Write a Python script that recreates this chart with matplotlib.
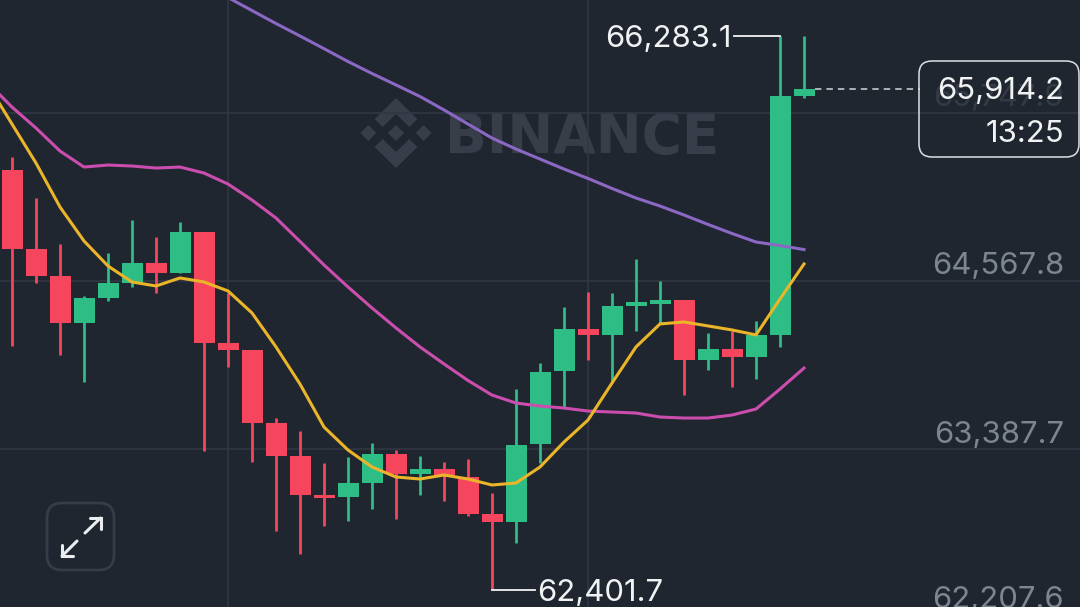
import numpy as np
import matplotlib
matplotlib.use('Agg')
import matplotlib.pyplot as plt
from matplotlib.patches import FancyBboxPatch, Polygon

# candles, prices
opens = [65345, 64790, 64605, 64276, 64449, 64556, 64696, 64626, 64911, 64134, 64082, 63571,
         63339, 63069, 63053, 63155, 63356, 63214, 63249, 63193, 62936, 62878, 63423, 63934,
         64229, 64190, 64395, 64409, 64433, 64012, 64092, 64033, 64190, 65863.5]
closes = [64790, 64605, 64276, 64449, 64556, 64696, 64626, 64911, 64134, 64082, 63571, 63339,
          63069, 63046, 63155, 63356, 63214, 63249, 63209, 62936, 62878, 63421, 63932.5, 64229,
          64190, 64395, 64419, 64433, 64012, 64092, 64033, 64190, 65863.5, 65914.2]
highs = [65434, 65151, 64825, 64463, 64762, 64993, 64876, 64981, 64911, 64486, 64082, 63606,
         63515, 63291, 63333, 63431, 63384, 63340, 63298, 63321, 63083, 63809, 63991, 64388,
         64493, 64482, 64720, 64566, 64433, 64201, 64220, 64288, 66283.1, 66283]
lows = [64112, 64556, 64049.5, 63862, 64430, 64528, 64486, 64626, 63377, 63963, 63302, 62819,
        62658, 62850, 62887, 62969, 62903, 63069, 63029, 62924, 62401.7, 62731, 63291, 63676,
        64014.5, 63853, 64216, 64274, 63769, 63944, 63823, 63879, 64108, 65847]

# moving averages, first two start one candle before the left edge
ma7 = [65941, 65667, 65394, 65086, 64848, 64673, 64561, 64533, 64589, 64561, 64498, 64344,
       64106, 63846, 63545, 63384, 63265, 63195, 63181, 63209, 63181, 63139, 63153, 63265,
       63440, 63594, 63853, 64106, 64267, 64281, 64253, 64225, 64190, 64442, 64687]
ma25 = [65955, 65786, 65639, 65478, 65366, 65380, 65373, 65359, 65366, 65324, 65247, 65135,
        65009, 64845, 64680, 64526, 64379, 64239, 64106, 63987, 63871, 63769, 63713, 63692,
        63678, 63657, 63650, 63643, 63615, 63608, 63608, 63629, 63671, 63811, 63958]
ma99 = [66553, 66462, 66371, 66284, 66195, 66105, 66021, 65941, 65860, 65766, 65667, 65569,
        65492, 65422, 65352, 65286, 65216, 65149, 65093, 65030, 64964, 64900.5, 64841, 64816, 64788]

y_ticks = [65747.9, 64567.8, 63387.7, 62207.6]
y_tick_labels = ['65,747.9', '64,567.8', '63,387.7', '62,207.6']
grid_candles = [9, 24]
last_price = '65,914.2'
countdown = '13:25'
high_label = '66,283.1'
low_label = '62,401.7'

BG = '#1F2630'
GRID = '#303743'
RED = '#F6465D'
GREEN = '#2EBD85'
FONT = 'Inter'
FS = 22.4

fig = plt.figure(figsize=(10.8, 6.07), dpi=100, facecolor=BG)

# back layer in pixels, watermark and expand button
back = fig.add_axes([0, 0, 1, 1], zorder=0)
back.set_xlim(0, 1080)
back.set_ylim(607, 0)
back.axis('off')

cx, cy = 396, 133
mark = '#383E49'
for dx in (-27.7, 0, 27.7):
    back.add_patch(Polygon([(cx+dx-8, cy), (cx+dx, cy-8), (cx+dx+8, cy), (cx+dx, cy+8)], color=mark, lw=0))
for s in (-1, 1):
    chevron = [(0, -35), (21.3, -14), (13.3, -6), (0, -19), (-13.3, -6), (-21.3, -14)]
    back.add_patch(Polygon([(cx+a, cy+s*b) for a, b in chevron], color=mark, lw=0))
back.text(582.5, 153, 'BINANCE', color=mark, fontsize=39.5, family='DejaVu Sans', weight='bold',
          ha='center', va='baseline')

back.add_patch(FancyBboxPatch((62, 518), 37, 37, boxstyle='round,pad=15,rounding_size=15',
                              fc='none', ec='#363C48', lw=2))
arrow = '#EAECEF'
for seg in ([(85, 533), (100.5, 518)], [(89.5, 518), (100.5, 518), (100.5, 529)],
            [(77, 541), (62, 556)], [(62, 545), (62, 556), (73, 556)]):
    xs, ys = zip(*seg)
    back.plot(xs, ys, color=arrow, lw=2.2, solid_capstyle='round', solid_joinstyle='miter')

# chart layer, candle i sits at pixel 12 + 24 i
ax = fig.add_axes([0, 0, 1, 1], zorder=1, facecolor='none')
ax.set_xlim(-0.5, 44.5)
ax.set_ylim(62284.5, 66535.9)
ax.axis('off')

for t in y_ticks:
    ax.axhline(t, color=GRID, lw=1.2, zorder=1)
for g in grid_candles:
    ax.axvline(g, color=GRID, lw=1.2, zorder=1)

x = np.arange(len(opens))
opens = np.array(opens)
closes = np.array(closes)
colors = [GREEN if c >= o else RED for o, c in zip(opens, closes)]
ax.vlines(x, lows, highs, color=colors, lw=2.0, zorder=2)
body = np.abs(closes - opens)
ax.bar(x, body, bottom=np.minimum(opens, closes), width=0.875, color=colors, zorder=3)

ax.plot(np.arange(-1, 34), ma25, color='#CB4EAE', lw=2.2, zorder=4)
ax.plot(np.arange(9, 34), ma99, color='#8A68C4', lw=2.2, zorder=4)
ax.plot(np.arange(-1, 34), ma7, color='#EBB52A', lw=2.2, zorder=4)

# scale labels sit just above their grid line, lowest one a bit higher
for t, lab in zip(y_ticks, y_tick_labels):
    a = 0.22 if t == y_ticks[0] else 1
    off = 7 if t == y_ticks[-1] else 5
    ax.annotate(lab, (1064/1080, t), xycoords=('axes fraction', 'data'), xytext=(0, off), textcoords='offset points',
                ha='right', va='baseline', color='#7D8591', fontsize=FS, family=FONT, alpha=a, zorder=5)

WHITE = '#F1F2F3'
ax.plot([32, 30.1], [highs[32], highs[32]], color=WHITE, lw=1.3, zorder=5)
ax.annotate(high_label, (30.0, highs[32]), xytext=(0, -8), textcoords='offset points', color=WHITE,
            fontsize=FS, family=FONT, ha='right', va='baseline', zorder=6)
ax.plot([20, 21.8], [lows[20], lows[20]], color=WHITE, lw=1.3, zorder=5)
ax.annotate(low_label, (21.9, lows[20]), xytext=(0, -8), textcoords='offset points', color=WHITE,
            fontsize=FS, family=FONT, ha='left', va='baseline', zorder=6)

# last price tag
ax.plot([33.45, 37.85], [closes[33], closes[33]], color='#D5D8DC', lw=1.1, dashes=(4.2, 3.3), zorder=5)
top = fig.add_axes([0, 0, 1, 1], zorder=2, facecolor='none')
top.set_xlim(0, 1080)
top.set_ylim(607, 0)
top.axis('off')
top.add_patch(FancyBboxPatch((931, 73), 136, 72, boxstyle='round,pad=12,rounding_size=13',
                             fc='none', ec='#DDE0E3', lw=1.1))
top.text(1064, 99.5, last_price, color=WHITE, fontsize=FS, family=FONT, ha='right', va='baseline')
top.text(1064, 141.7, countdown, color=WHITE, fontsize=FS, family=FONT, ha='right', va='baseline')

fig.savefig('out.png', dpi=100, facecolor=BG)
